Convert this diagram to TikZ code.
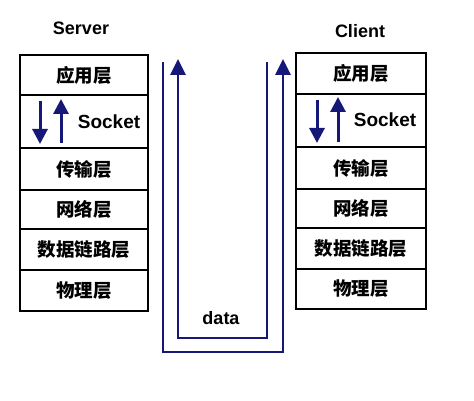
\documentclass[tikz,border=0pt]{standalone}
\usepackage{fontspec}
\setmainfont{Liberation Sans}
\newfontfamily\cjk{Noto Sans CJK SC}
\usetikzlibrary{arrows.meta}
\definecolor{navy}{RGB}{22,24,120}
\tikzset{
  layer/.style={draw=black, line width=1.8pt, minimum width=#1, inner sep=0pt, font=\cjk\bfseries\fontsize{18.5}{18.5}\selectfont},
  lbl/.style={font=\bfseries\fontsize{18}{18}\selectfont, inner sep=0pt},
  sock/.style={font=\bfseries\fontsize{19}{19}\selectfont, inner sep=0pt},
  uarrow/.style={draw=navy, line width=2.8pt, -{Triangle[width=15pt,length=16pt]}},
  sarrow/.style={draw=navy, line width=3pt, -{Triangle[width=15pt,length=15pt]}},
}
\begin{document}
\begin{tikzpicture}[x=1pt,y=-1pt]
\useasboundingbox (0,0) rectangle (474,401);
% Server stack
\node[layer=128pt, minimum height=40pt] (s1) at (84,75) {应用层};
\node[layer=128pt, minimum height=53pt] (s2) at (84,121.5) {};
\node[layer=128pt, minimum height=42pt] (s3) at (84,169) {传输层};
\node[layer=128pt, minimum height=39pt] (s4) at (84,209.5) {网络层};
\node[layer=128pt, minimum height=41pt] (s5) at (84,249.5) {数据链路层};
\node[layer=128pt, minimum height=41pt] (s6) at (84,290.5) {物理层};
% Client stack
\node[layer=130pt, minimum height=41pt] (c1) at (361,73.5) {应用层};
\node[layer=130pt, minimum height=53pt] (c2) at (361,120.5) {};
\node[layer=130pt, minimum height=42pt] (c3) at (361,168) {传输层};
\node[layer=130pt, minimum height=39pt] (c4) at (361,208.5) {网络层};
\node[layer=130pt, minimum height=41pt] (c5) at (361,248.5) {数据链路层};
\node[layer=130pt, minimum height=40pt] (c6) at (361,289) {物理层};
% labels
\node[lbl] (server) at (81,28) {Server};
\node[lbl] (client) at (360,31) {Client};
\node[sock] (sock1) at (109,122) {Socket};
\node[sock] (sock2) at (385,120) {Socket};
\node[lbl] (data) at (221,318) {data};
% socket arrows
\coordinate (sa1) at (40,101); \coordinate (sa2) at (40,144);
\coordinate (sb1) at (61,143); \coordinate (sb2) at (61,99);
\draw[sarrow] (sa1) -- (sa2);
\draw[sarrow] (sb1) -- (sb2);
\coordinate (ca1) at (317,100); \coordinate (ca2) at (317,143);
\coordinate (cb1) at (338,142); \coordinate (cb2) at (338,97);
\draw[sarrow] (ca1) -- (ca2);
\draw[sarrow] (cb1) -- (cb2);
% data paths
\coordinate (o1) at (163,62); \coordinate (o2) at (163,352);
\coordinate (o3) at (283,352); \coordinate (o4) at (283,59);
\draw[uarrow] (o1) -- (o2) -- (o3) -- (o4);
\coordinate (i1) at (267,62); \coordinate (i2) at (267,338);
\coordinate (i3) at (178,338); \coordinate (i4) at (178,59);
\draw[uarrow] (i1) -- (i2) -- (i3) -- (i4);
\end{tikzpicture}
\end{document}
